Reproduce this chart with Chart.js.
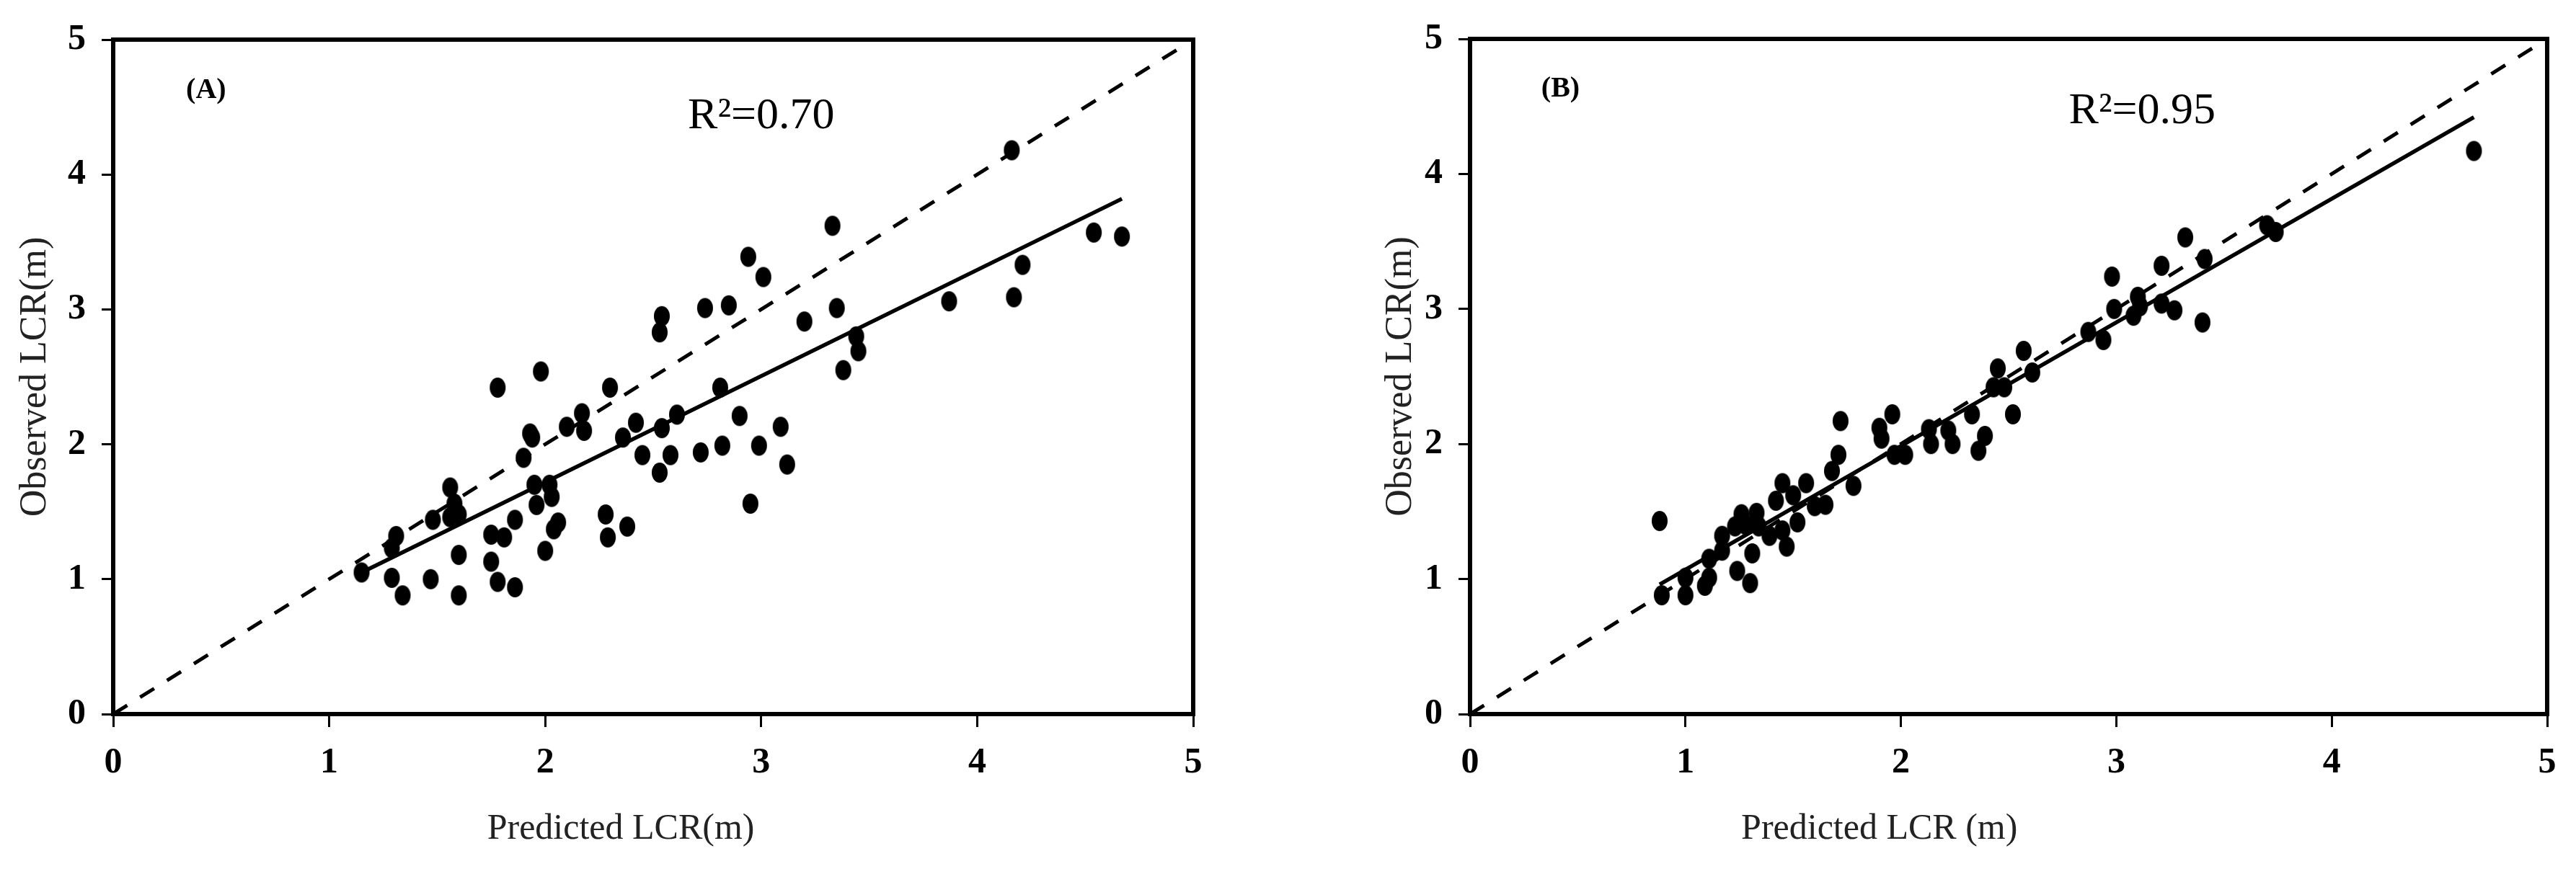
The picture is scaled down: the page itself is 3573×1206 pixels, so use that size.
<!DOCTYPE html>
<html>
<head>
<meta charset="utf-8">
<script src="https://cdn.jsdelivr.net/npm/chart.js@4.4.1/dist/chart.umd.min.js"></script>
<style>
  html, body { margin: 0; padding: 0; background: #fff; }
  body { width: 3573px; height: 1206px; position: relative; overflow: hidden; }
  .panel { position: absolute; top: 0; height: 1206px; }
  #panelA { left: 0; width: 1700px; }
  #panelB { left: 1882px; width: 1691px; }
</style>
</head>
<body>
<div class="panel" id="panelA"><canvas id="chartA"></canvas></div>
<div class="panel" id="panelB"><canvas id="chartB"></canvas></div>
<script>
// ---------- Data ----------
const axisTicks = [0, 1, 2, 3, 4, 5];

// (A) predicted vs observed LCR (m)
const predictedA = [
  1.15, 1.29, 1.34, 1.31, 1.29, 1.47, 1.48, 1.56, 1.58, 1.60, 1.56, 1.60, 1.60,
  1.75, 1.81, 1.86, 1.75, 1.78, 1.86, 1.78, 1.98, 1.93, 1.94, 1.90, 1.95, 2.02,
  2.03, 1.96, 2.06, 2.04, 2.00, 2.10, 2.17, 2.18, 2.28, 2.29, 2.38, 2.30, 2.36,
  2.42, 2.45, 2.53, 2.58, 2.54, 2.61, 2.54, 2.53, 2.74, 2.85, 2.72, 2.82, 2.81,
  2.90, 2.95, 2.94, 3.01, 2.99, 3.09, 3.12, 3.20, 3.33, 3.35, 3.44, 3.45, 3.38,
  3.87, 4.17, 4.21, 4.16, 4.54, 4.67,
];
const observedA = [
  1.05, 1.01, 0.88, 1.32, 1.23, 1.00, 1.44, 1.68, 1.56, 1.48, 1.46, 1.18, 0.88,
  1.33, 1.31, 1.44, 1.13, 0.98, 0.94, 2.42, 2.54, 2.08, 2.05, 1.90, 1.70, 1.70,
  1.61, 1.55, 1.42, 1.37, 1.21, 2.13, 2.23, 2.10, 1.48, 1.31, 1.39, 2.42, 2.05,
  2.16, 1.92, 1.79, 1.92, 2.12, 2.22, 2.95, 2.83, 3.01, 3.03, 1.94, 1.99, 2.42,
  2.21, 1.56, 3.39, 3.24, 1.99, 2.13, 1.85, 2.91, 3.62, 3.01, 2.80, 2.69, 2.55,
  3.06, 3.09, 3.33, 4.18, 3.57, 3.54,
];
const fitAx = [1.15, 4.67];
const fitAy = [1.05, 3.82];

// (B) predicted vs observed LCR (m)
const predictedB = [
  0.88, 0.89, 1.00, 1.00, 1.09, 1.11, 1.11, 1.17, 1.17, 1.24, 1.30, 1.31, 1.26,
  1.33, 1.23, 1.28, 1.34, 1.39, 1.45, 1.47, 1.42, 1.45, 1.50, 1.52, 1.56, 1.60,
  1.65, 1.68, 1.71, 1.78, 1.72, 1.90, 1.96, 1.91, 1.97, 2.02, 2.14, 2.24, 2.22,
  2.13, 2.33, 2.36, 2.39, 2.43, 2.48, 2.45, 2.52, 2.57, 2.61, 4.66, 3.32, 3.41,
  3.21, 2.98, 3.70, 3.74, 3.10, 3.11, 3.08, 2.99, 3.21, 3.27, 3.40, 2.87, 2.94,
];
const observedB = [
  1.43, 0.88, 0.88, 1.01, 0.95, 1.01, 1.15, 1.32, 1.21, 1.06, 0.97, 1.19, 1.48,
  1.49, 1.39, 1.40, 1.39, 1.32, 1.36, 1.24, 1.58, 1.71, 1.62, 1.42, 1.71, 1.54,
  1.55, 1.80, 1.92, 1.69, 2.17, 2.12, 2.22, 2.04, 1.92, 1.92, 2.00, 2.00, 2.10,
  2.11, 2.22, 1.95, 2.06, 2.42, 2.42, 2.56, 2.22, 2.69, 2.53, 4.17, 3.53, 3.37,
  3.32, 3.24, 3.62, 3.57, 3.09, 3.02, 2.95, 3.00, 3.04, 2.99, 2.90, 2.83, 2.77,
];
const fitBx = [0.88, 4.66];
const fitBy = [0.96, 4.42];

// 1:1 reference line
const identityLine = [0, 4.93];

// ---------- Helpers ----------
const SERIF = "'Liberation Serif', 'Times New Roman', serif";

function dotImage() {
  // the markers in the figure are slightly taller than wide
  const c = document.createElement("canvas");
  c.width = 24;
  c.height = 30;
  const g = c.getContext("2d");
  g.fillStyle = "#000";
  g.beginPath();
  g.ellipse(12, 15, 11, 14, 0, 0, Math.PI * 2);
  g.fill();
  return c;
}

function pairs(xs, ys) {
  return xs.map((x, i) => ({ x, y: ys[i] }));
}

const framePlugin = {
  id: "frame",
  afterDraw(chart) {
    const { ctx, chartArea: a } = chart;
    ctx.save();
    ctx.strokeStyle = "#000";
    ctx.lineWidth = 6;
    ctx.strokeRect(a.left, a.top, a.right - a.left, a.bottom - a.top);
    ctx.restore();
  },
};

const captionPlugin = {
  id: "captions",
  afterDraw(chart, args, opts) {
    const { ctx, scales } = chart;
    ctx.save();
    ctx.textAlign = "center";
    ctx.textBaseline = "middle";
    for (const c of opts.items || []) {
      ctx.font = c.font;
      ctx.fillStyle = c.color || "#000";
      const px = scales.x.getPixelForValue(c.x);
      const py = c.y !== undefined
        ? scales.y.getPixelForValue(c.y)
        : chart.chartArea.bottom + c.below;
      ctx.fillText(c.text, px, py);
    }
    ctx.restore();
  },
};

// ---------- Plotting ----------
function plotPanel(canvasId, pts, fitX, fitY, captions, pad, yTitlePad) {
  const ctx = document.getElementById(canvasId).getContext("2d");
  const tickFont = { family: SERIF, size: 50, weight: "bold" };
  const setTicks = (scale) => {
    scale.ticks = axisTicks.map((v) => ({ value: v }));
  };

  return new Chart(ctx, {
    type: "scatter",
    data: {
      datasets: [
        {
          label: "1:1",
          data: pairs(identityLine, identityLine),
          showLine: true,
          borderColor: "#000",
          borderWidth: 5,
          borderDash: [23, 21],
          pointRadius: 0,
          order: 1,
        },
        {
          label: "Fit",
          data: pairs(fitX, fitY),
          showLine: true,
          borderColor: "#000",
          borderWidth: 5.5,
          pointRadius: 0,
          order: 1,
        },
        {
          label: "LCR",
          data: pts,
          pointStyle: dotImage(),
          pointRadius: 12,
          backgroundColor: "#000",
          borderColor: "#000",
          order: 2,
        },
      ],
    },
    options: {
      responsive: true,
      maintainAspectRatio: false,
      animation: false,
      layout: { padding: pad },
      plugins: {
        legend: { display: false },
        tooltip: { enabled: false },
        captions: { items: captions },
      },
      scales: {
        x: {
          type: "linear",
          min: 0,
          max: 5,
          afterBuildTicks: setTicks,
          afterFit: (s) => { s.height = 100; },
          grid: {
            drawOnChartArea: false,
            drawTicks: true,
            tickLength: 18,
            tickWidth: 3,
            tickColor: "#000",
          },
          border: { display: true, color: "#000", width: 6 },
          ticks: { color: "#000", font: tickFont, padding: 20, maxRotation: 0 },
        },
        y: {
          type: "linear",
          min: 0,
          max: 5,
          afterBuildTicks: setTicks,
          afterFit: (s) => { s.width = 157; },
          grid: {
            drawOnChartArea: false,
            drawTicks: true,
            tickLength: 16,
            tickWidth: 3,
            tickColor: "#000",
          },
          border: { display: true, color: "#000", width: 6 },
          ticks: { color: "#000", font: tickFont, padding: 22 },
          title: {
            display: true,
            text: "Observed LCR(m)",
            color: "#222",
            font: { family: SERIF, size: 52 },
            padding: { top: yTitlePad, bottom: 0 },
          },
        },
      },
    },
    plugins: [framePlugin, captionPlugin],
  });
}

plotPanel(
  "chartA",
  pairs(predictedA, observedA),
  fitAx,
  fitAy,
  [
    { text: "(A)", x: 0.43, y: 4.62, font: `bold 40px ${SERIF}` },
    { text: "R²=0.70", x: 3.0, y: 4.43, font: `62px ${SERIF}` },
    { text: "Predicted LCR(m)", x: 2.35, below: 160, font: `50px ${SERIF}`, color: "#222" },
  ],
  { top: 55, right: 45, bottom: 115, left: 0 },
  18
);

plotPanel(
  "chartB",
  pairs(predictedB, observedB),
  fitBx,
  fitBy,
  [
    { text: "(B)", x: 0.42, y: 4.63, font: `bold 40px ${SERIF}` },
    { text: "R²=0.95", x: 3.12, y: 4.46, font: `62px ${SERIF}` },
    { text: "Predicted LCR (m)", x: 1.9, below: 160, font: `50px ${SERIF}`, color: "#222" },
  ],
  { top: 54, right: 40, bottom: 115, left: 0 },
  30
);
</script>
</body>
</html>
